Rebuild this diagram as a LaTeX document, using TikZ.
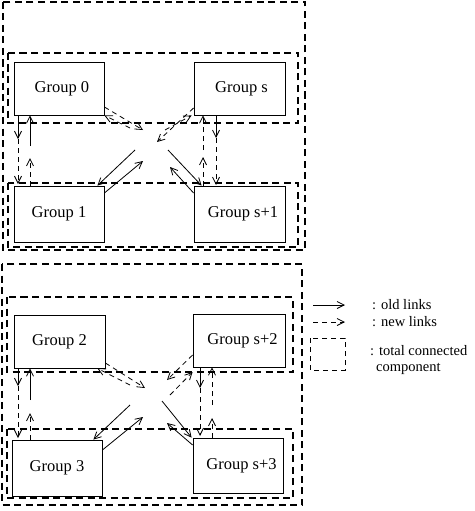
\documentclass[tikz,border=0pt]{standalone}
\usepackage{fontspec}
\setmainfont{Liberation Serif}
\usetikzlibrary{arrows.meta}
\begin{document}
\begin{tikzpicture}[x=1pt,y=-1pt,
  grp/.style={draw,line width=0.8pt,minimum width=90pt,minimum height=54pt,inner sep=0pt,font=\fontsize{16.5}{19}\selectfont},
  comp/.style={draw,line width=1.1pt,dash pattern=on 7pt off 4.5pt},
  old/.style={line width=0.8pt,-{Straight Barb[length=7pt,width=7pt]}},
  new/.style={line width=0.8pt,dash pattern=on 5pt off 4pt,-{Straight Barb[length=7pt,width=7pt]}},
  lbl/.style={anchor=west,inner sep=0pt,font=\fontsize{14.5}{16}\selectfont}]
\useasboundingbox (0,0) rectangle (474,511);
% component boxes
\draw[comp] (3,2) rectangle (305,250);
\draw[comp] (8,53) rectangle (298,123);
\draw[comp] (8,183) rectangle (298,247);
\draw[comp] (2,264) rectangle (302,505);
\draw[comp] (7,297) rectangle (293,372);
\draw[comp] (7,429) rectangle (293,498);
% groups
\node[grp,minimum width=90pt,minimum height=53pt] (g0) at (59,88.5) {\hspace*{6pt}Group 0};
\node[grp,minimum width=91pt,minimum height=53pt] (gs) at (239.5,88.5) {\hspace*{4pt}Group s};
\node[grp,minimum width=90pt,minimum height=56pt] (g1) at (59,214) {Group 1};
\node[grp,minimum width=91pt,minimum height=56pt] (gs1) at (239.5,214) {\hspace*{7pt}Group s+1};
\node[grp,minimum width=91pt,minimum height=53pt] (g2) at (59.5,341.5) {Group 2};
\node[grp,minimum width=92pt,minimum height=53pt] (gs2) at (239,340.5) {\hspace*{7pt}Group s+2};
\node[grp,minimum width=90pt,minimum height=56pt] (g3) at (57,468) {Group 3};
\node[grp,minimum width=90pt,minimum height=55pt] (gs3) at (238,465.5) {\hspace*{7pt}Group s+3};
% top: vertical links
\coordinate (a1) at (18,139); \coordinate (a2) at (18,184);
\draw[old] (g0.south -| a1) -- (a1);
\draw[new] (a1) -- (a2);
\coordinate (b1) at (30,146); \coordinate (b2) at (30,158);
\draw[old] (b1) -- (g0.south -| b1);
\draw[new] (g1.north -| b2) -- (b2);
\coordinate (c1) at (203,150); \coordinate (c2) at (203,157);
\draw[new] (c1) -- (gs.south -| c1);
\draw[new] (gs1.north -| c2) -- (c2);
\coordinate (d1) at (216,138); \coordinate (d2) at (216,185);
\draw[old] (gs.south -| d1) -- (d1);
\draw[new] (d1) -- (d2);
% top: diagonal links
\coordinate (e1) at (143,130); \coordinate (e2) at (130,128);
\draw[new] (g0.east |- 0,107) -- (e1);
\draw[new] (e2) -- (g0.south east);
\coordinate (f1) at (157,142); \coordinate (f2) at (165,130);
\draw[new] (gs.west |- 0,108) -- (f1);
\draw[new] (f2) -- ([xshift=-2pt]gs.south west);
\coordinate (h1) at (135,150); \coordinate (h2) at (143,161);
\draw[old] (h1) -- ([xshift=-7pt]g1.north east);
\draw[old] (g1.east |- 0,193) -- (h2);
\coordinate (k1) at (168,150); \coordinate (k2) at (170,167);
\draw[old] (k1) -- ([xshift=8pt]gs1.north west);
\draw[old] (gs1.west |- 0,193) -- (k2);
% bottom: vertical links
\coordinate (l1) at (18,386); \coordinate (l2) at (18,438);
\draw[old] (g2.south -| l1) -- (l1);
\draw[new] (l1) -- (l2);
\coordinate (m1) at (30,400); \coordinate (m2) at (30,413);
\draw[old] (m1) -- (g2.south -| m1);
\draw[new] (g3.north -| m2) -- (m2);
\coordinate (n1) at (200,388); \coordinate (n2) at (200,436);
\draw[old] (gs2.south -| n1) -- (n1);
\draw[new] (n1) -- (n2);
\coordinate (o1) at (212,405); \coordinate (o2) at (212,418);
\draw[new] (o1) -- (gs2.south -| o1);
\draw[new] (gs3.north -| o2) -- (o2);
% bottom: diagonal links
\coordinate (p1) at (145,388); \coordinate (p2) at (130,385);
\draw[new] (g2.east |- 0,363) -- (p1);
\draw[new] (p2) -- ([xshift=-8pt]g2.south east);
\coordinate (q1) at (167,380); \coordinate (q2) at (170,395);
\draw[new] (gs2.west |- 0,355) -- (q1);
\draw[new] (q2) -- (gs2.west |- 0,372);
\coordinate (r1) at (130,405); \coordinate (r2) at (143,417);
\draw[old] (r1) -- ([xshift=-9pt]g3.north east);
\draw[old] (g3.east |- 0,450) -- (r2);
\coordinate (s1) at (162,401); \coordinate (s2) at (167,423);
\draw[old] (s1) -- ([xshift=-1pt]gs3.north west);
\draw[old] (gs3.west |- 0,445) -- (s2);
% legend
\coordinate (t1) at (313,305); \coordinate (t2) at (345,305);
\draw[old] (t1) -- (t2);
\coordinate (u1) at (313,322); \coordinate (u2) at (345,322);
\draw[new] (u1) -- (u2);
\node[lbl] (lo) at (372,305) {: old links};
\node[lbl] (ln) at (372,322) {: new links};
\draw[comp,line width=0.8pt,dash pattern=on 5pt off 4pt] (310,338) rectangle (345,370);
\node[lbl] (lt) at (370,351) {: total connected};
\node[lbl] (lc) at (376,369) {component};
\end{tikzpicture}
\end{document}
